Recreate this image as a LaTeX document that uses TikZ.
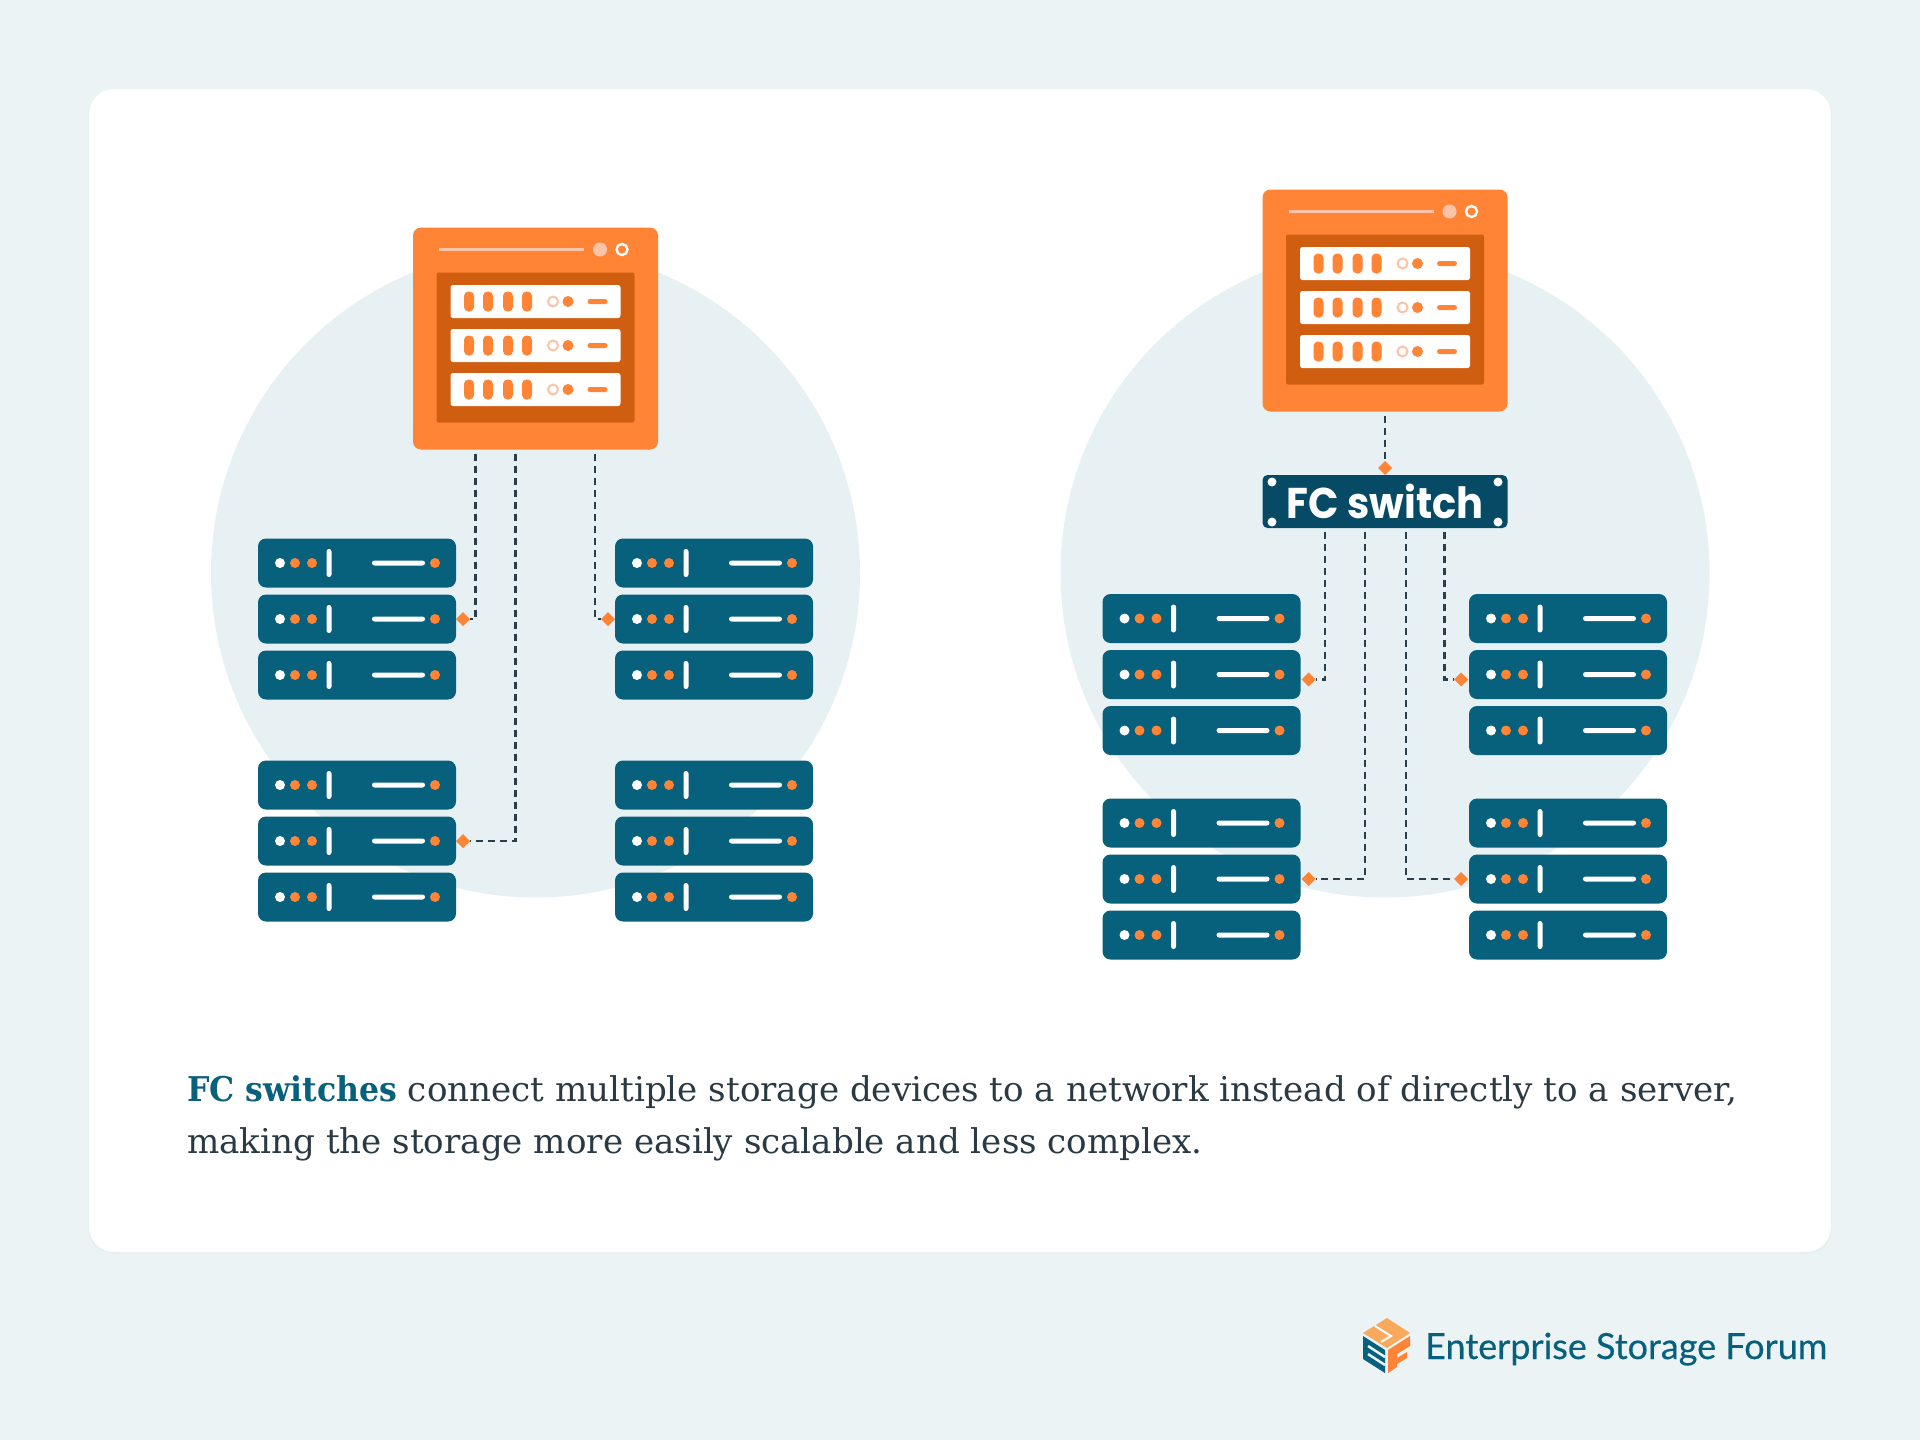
\documentclass[tikz,border=0pt]{standalone}
\usepackage{fontspec}
\usepackage{xcolor}
\usetikzlibrary{shapes.geometric, positioning, calc}

\setmainfont{DejaVu Serif}[BoldFeatures={FakeStretch=0.925}]
\newfontfamily\switchfont{Poppins}[FakeStretch=0.93]
\newfontfamily\brandfont{Lato}[FakeBold=0.4]

\definecolor{pagebg}{HTML}{EBF3F5}
\definecolor{cardedge}{HTML}{E6EEF1}
\definecolor{disc}{HTML}{E7F0F3}
\definecolor{hostorange}{HTML}{FF8435}
\definecolor{hostdark}{HTML}{D05E10}
\definecolor{hostpale}{HTML}{FBC4A8}
\definecolor{teal}{HTML}{07607C}
\definecolor{navy}{HTML}{064A65}
\definecolor{wirecol}{HTML}{2C3E4A}
\definecolor{bodytext}{HTML}{2B3A42}
\definecolor{logopale}{HTML}{F9A95C}

\tikzset{
    flat/.style={rectangle, inner sep=0pt, outer sep=0pt},
    unitbody/.style={flat, fill=teal, minimum width=198pt, minimum height=49pt, rounded corners=8pt},
    whitebar/.style={flat, fill=white, rounded corners=2.5pt},
    spot/.style={circle, inner sep=0pt, outer sep=0pt, minimum size=10pt, fill=#1},
    pill/.style={flat, fill=hostorange, minimum width=10pt, minimum height=20pt, rounded corners=4.5pt},
    wire/.style={draw=wirecol, line width=2.4pt, dash pattern=on 7pt off 5pt, shorten <=4pt},
    port/.style={diamond, fill=hostorange, inner sep=0pt, outer sep=0pt, minimum size=14pt},
    pics/rackunit/.style={code={
        \node[unitbody] (-body) at (0,0) {};
        \node[spot=white] (-a) at (-77,0) {};
        \node[spot=hostorange] (-b) at (-62,0) {};
        \node[spot=hostorange] (-c) at (-45,0) {};
        \node[whitebar, minimum width=5pt, minimum height=28pt] (-d) at (-28,0) {};
        \node[whitebar, minimum width=53pt, minimum height=5pt] (-e) at (41.5,0) {};
        \node[spot=hostorange] (-f) at (78,0) {};
    }},
    pics/rack/.style={code={
        \foreach \k/\off in {1/-56, 2/0, 3/56}
            \pic (-u\k) at (0,\off) {rackunit};
    }},
    pics/hostrow/.style={code={
        \node[whitebar, fill=white, minimum width=170pt, minimum height=33pt] (-row) at (0,0) {};
        \foreach \px in {-66.5,-47.5,-27.5,-8.5}
            \node[pill] at (\px,0) {};
        \node[spot=white, draw=hostpale, line width=2pt, minimum size=10pt] (-ring) at (17.5,0) {};
        \node[spot=hostorange, minimum size=11pt] (-dot) at (32.5,0) {};
        \node[flat, fill=hostorange, minimum width=20pt, minimum height=5pt, rounded corners=2.5pt] (-dash) at (62,0) {};
    }},
    pics/host/.style={code={
        \node[flat, fill=hostorange, minimum width=245pt, minimum height=222pt, rounded corners=8pt] (-box) at (0,0) {};
        \node[flat, fill=hostdark, minimum width=198pt, minimum height=150pt, rounded corners=2pt] (-inner) at (0,9) {};
        \node[flat, fill=hostpale, minimum width=145pt, minimum height=3pt] (-title) at (-24,-89) {};
        \node[spot=hostpale, minimum size=14pt] (-btna) at (64.5,-89) {};
        \node[spot=hostorange, draw=white, line width=2.4pt, minimum size=11pt] (-btnb) at (86.5,-89) {};
        \foreach \k/\off in {1/-37, 2/7, 3/51}
            \pic (-r\k) at (0,\off) {hostrow};
    }},
}

\begin{document}
\begin{tikzpicture}[x=1pt, y=-1pt]

\useasboundingbox (0,0) rectangle (1920,1440);
\fill[pagebg] (0,0) rectangle (1920,1440);

% Card
\node[flat, fill=cardedge, minimum width=1744pt, minimum height=1165pt, rounded corners=25pt] (cardshade) at (960,671.5) {};
\node[flat, fill=white, minimum width=1742pt, minimum height=1163pt, rounded corners=25pt] (card) at (960,670.5) {};

% Discs
\node[circle, fill=disc, inner sep=0pt, minimum size=649pt] (discL) at (535.5,573) {};
\node[circle, fill=disc, inner sep=0pt, minimum size=649pt] (discR) at (1385,573) {};

% Hosts
\pic (hostL) at (535.5,338.5) {host};
\pic (hostR) at (1385,300.5) {host};

% Racks, left
\foreach \n/\x/\y in {la/357/619, lb/714/619, lc/357/841, ld/714/841}
    \pic (\n) at (\x,\y) {rack};

% Racks, right
\foreach \n/\x/\y in {ra/1201.5/674.5, rb/1568/674.5, rc/1201.5/879, rd/1568/879}
    \pic (\n) at (\x,\y) {rack};

% FC switch
\node[flat, fill=navy, minimum width=245pt, minimum height=53pt, rounded corners=5pt,
    text=white, font=\switchfont\bfseries\fontsize{43}{43}\selectfont] (fcswitch) at (1385,501.5) {FC switch};
\foreach \n/\x/\y in {p1/1272/482, p2/1498/482, p3/1272/522, p4/1498/522}
    \node[spot=white, minimum size=9pt] (\n) at (\x,\y) {};

% Ports
\node[port, right=0pt of la-u2-body] (portA) {};
\node[port, left=0pt of lb-u2-body] (portB) {};
\node[port, right=0pt of lc-u2-body] (portC) {};
\node[port, right=1pt of ra-u2-body, yshift=-5pt] (portD) {};
\node[port, left=1pt of rb-u2-body, yshift=-5pt] (portE) {};
\node[port, right=1pt of rc-u2-body] (portF) {};
\node[port, left=1pt of rd-u2-body] (portG) {};
\node[port] (portH) at (1385,468) {};

% Wires
\draw[wire] ([xshift=-60pt]hostL-box.south) |- (portA.east);
\draw[wire] ([xshift=-20pt]hostL-box.south) |- (portC.east);
\draw[wire] ([xshift=59.5pt]hostL-box.south) |- (portB.west);
\draw[wire] (hostR-box.south) -- (portH.north);
\draw[wire] ([xshift=-60pt]fcswitch.south) |- (portD.east);
\draw[wire] ([xshift=-20pt]fcswitch.south) |- (portF.east);
\draw[wire] ([xshift=21pt]fcswitch.south) |- (portG.west);
\draw[wire] ([xshift=59.5pt]fcswitch.south) |- (portE.west);

% Caption
\node[anchor=north west, inner sep=0pt, align=left, text=bodytext,
    font=\fontsize{34.1}{52}\selectfont] (caption) at (187,1075)
    {\textcolor{teal}{\textbf{FC switches}} connect multiple storage devices to a network instead of directly to a server,\\
     making the storage more easily scalable and less complex.};

% Logo
\fill[logopale] (1387,1318) -- (1410,1333) -- (1387,1348) -- (1363,1333) -- cycle;
\fill[teal] (1363,1336) -- (1385,1350) -- (1385,1373) -- (1363,1359) -- cycle;
\fill[hostorange] (1388,1350) -- (1410,1336) -- (1410,1346) -- (1397,1354) -- (1397,1358) -- (1407,1352) -- (1407,1358) -- (1397,1364) -- (1397,1367) -- (1388,1373) -- cycle;
\draw[white, line width=2pt] (1375,1326) -- (1391,1336) -- (1381,1342);
\draw[pagebg, line width=2.5pt] (1368,1346) -- (1385,1357) (1368,1354) -- (1385,1365);
\node[anchor=base west, inner sep=0pt, text=teal, font=\brandfont\fontsize{36}{36}\selectfont] (brand) at (1425,1359) {Enterprise Storage Forum};

\end{tikzpicture}
\end{document}
